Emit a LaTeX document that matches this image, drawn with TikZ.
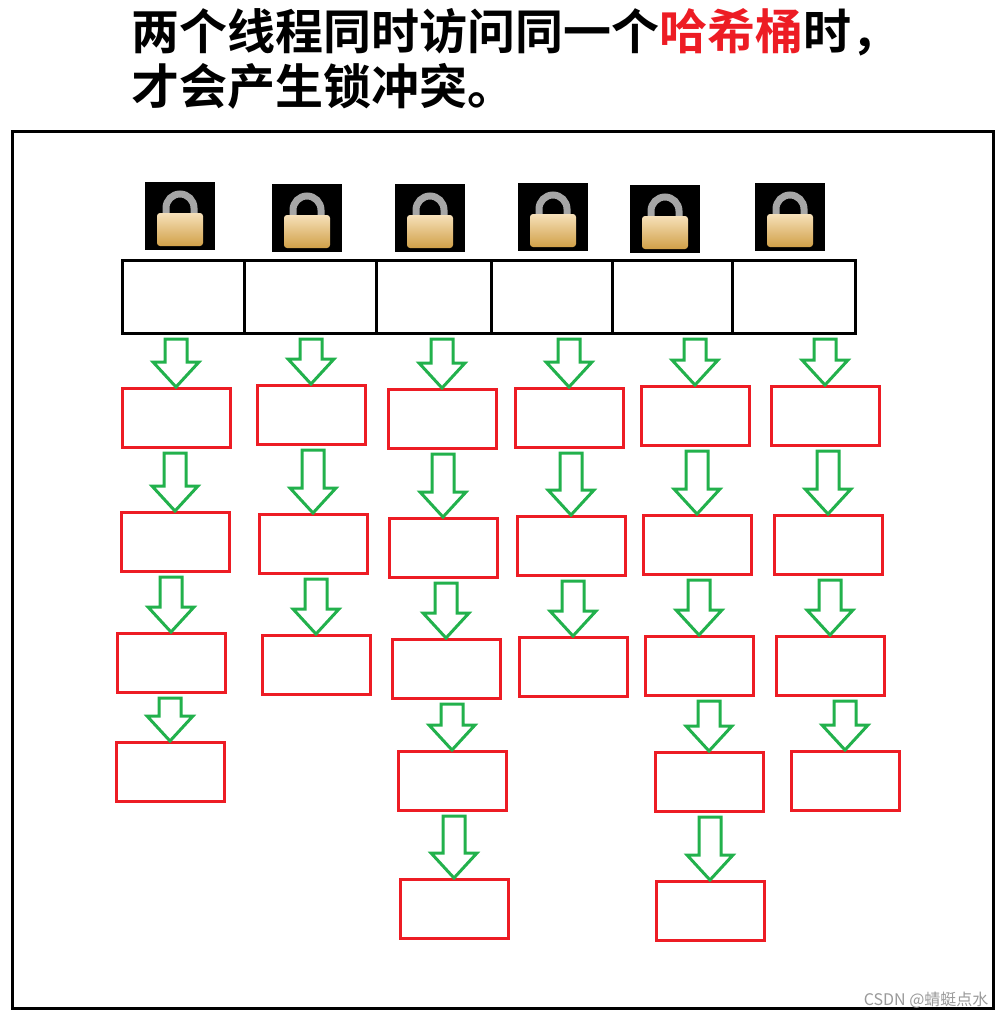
\documentclass[tikz,border=0pt]{standalone}
\usepackage{fontspec}
\newfontfamily\cjk{Noto Sans CJK SC}
\newfontfamily\cjkbold{Noto Sans CJK SC Bold}
\usetikzlibrary{calc}
\definecolor{arrowgreen}{RGB}{34,177,76}
\definecolor{boxred}{RGB}{237,28,36}
\definecolor{lockgold}{RGB}{232,178,80}

\tikzset{
  rbox/.style={draw=boxred, line width=3pt, minimum width=108pt, minimum height=59pt, inner sep=0pt},
  cell/.style={draw=black, line width=3pt, minimum height=73pt, inner sep=0pt},
  arrowline/.style={draw=arrowgreen, fill=white, line width=3pt, line join=miter},
  lock/.pic={
    \fill[black] (-35,-34) rectangle (35,34);
    \draw[gray!70, line width=7pt] (-14,4) -- (-14,-8) arc[start angle=180, end angle=360, radius=14] -- (14,4);
    \shade[top color=lockgold!40, bottom color=lockgold!90!black, rounded corners=3pt] (-23,-3) rectangle (23,30);
  }
}

% green block arrow onto box #2, starting below #1
\newcommand\garrow[2]{%
  \draw[arrowline] let \p1=(#1.south), \p2=(#2.north) in
    ({\x2-11pt},{\y1-4pt}) -- ({\x2+11pt},{\y1-4pt}) -- ({\x2+11pt},{\y2+25pt})
    -- ({\x2+23pt},{\y2+25pt}) -- (\x2,\y2) -- ({\x2-23pt},{\y2+25pt})
    -- ({\x2-11pt},{\y2+25pt}) -- cycle;}

\begin{document}
\begin{tikzpicture}[x=1pt, y=-1pt]
  \useasboundingbox (0,0) rectangle (1008,1019);

  \node[anchor=base west, inner sep=0pt, font=\cjkbold\fontsize{48}{50}\selectfont] (t1) at (131,50)
    {两个线程同时访问同一个\textcolor{boxred}{哈希桶}时，};
  \node[anchor=base west, inner sep=0pt, font=\cjkbold\fontsize{48}{50}\selectfont] (t2) at (131,105)
    {才会产生锁冲突。};

  \draw[line width=3pt] (12,132) rectangle (993,1008);

  % buckets
  \node[cell, minimum width=122pt] (b1) at (183,297) {};
  \node[cell, minimum width=132pt] (b2) at (310,297) {};
  \node[cell, minimum width=115pt] (b3) at (433.5,297) {};
  \node[cell, minimum width=121pt] (b4) at (551.5,297) {};
  \node[cell, minimum width=120pt] (b5) at (672,297) {};
  \node[cell, minimum width=123pt] (b6) at (793.5,297) {};

  % locks
  \pic at (180,216) {lock};
  \pic at (307,218) {lock};
  \pic at (430,218) {lock};
  \pic at (553,217) {lock};
  \pic at (665,219) {lock};
  \pic at (790,217) {lock};

  % chains
  \node[rbox] (c11) at (176,418) {};
  \node[rbox] (c12) at (175,542) {};
  \node[rbox] (c13) at (171,663) {};
  \node[rbox] (c14) at (170,772) {};

  \node[rbox] (c21) at (311,415) {};
  \node[rbox] (c22) at (313,544) {};
  \node[rbox] (c23) at (316,665) {};

  \node[rbox] (c31) at (442,419) {};
  \node[rbox] (c32) at (443,548) {};
  \node[rbox] (c33) at (446,669) {};
  \node[rbox] (c34) at (452,781) {};
  \node[rbox] (c35) at (454,909) {};

  \node[rbox] (c41) at (569,418) {};
  \node[rbox] (c42) at (571,546) {};
  \node[rbox] (c43) at (573,667) {};

  \node[rbox] (c51) at (695,416) {};
  \node[rbox] (c52) at (697,545) {};
  \node[rbox] (c53) at (699,666) {};
  \node[rbox] (c54) at (709,782) {};
  \node[rbox] (c55) at (710,911) {};

  \node[rbox] (c61) at (825,416) {};
  \node[rbox] (c62) at (828,545) {};
  \node[rbox] (c63) at (830,666) {};
  \node[rbox] (c64) at (845,781) {};

  \garrow{b1}{c11} \garrow{c11}{c12} \garrow{c12}{c13} \garrow{c13}{c14}
  \garrow{b2}{c21} \garrow{c21}{c22} \garrow{c22}{c23}
  \garrow{b3}{c31} \garrow{c31}{c32} \garrow{c32}{c33} \garrow{c33}{c34} \garrow{c34}{c35}
  \garrow{b4}{c41} \garrow{c41}{c42} \garrow{c42}{c43}
  \garrow{b5}{c51} \garrow{c51}{c52} \garrow{c52}{c53} \garrow{c53}{c54} \garrow{c54}{c55}
  \garrow{b6}{c61} \garrow{c61}{c62} \garrow{c62}{c63} \garrow{c63}{c64}

  \node[anchor=east, text=gray!80, font=\cjk\fontsize{16}{18}\selectfont] (wm) at (992,1000) {CSDN @蜻蜓点水};
\end{tikzpicture}
\end{document}
